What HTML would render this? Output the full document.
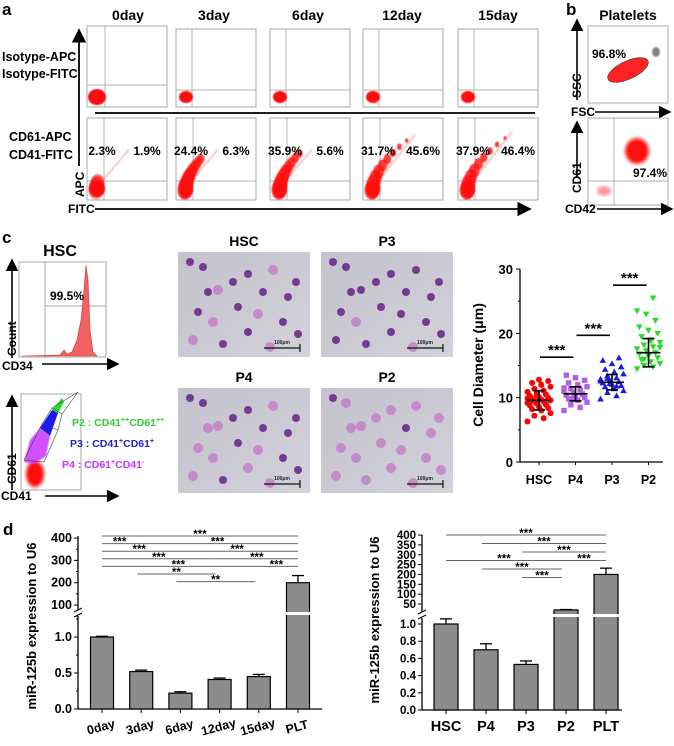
<!DOCTYPE html>
<html><head><meta charset="utf-8">
<style>
html,body{margin:0;padding:0;background:#fff;}
svg{display:block;font-family:"Liberation Sans",Arial,sans-serif;}
text{font-weight:bold;}
</style></head>
<body>
<svg id="fig" width="674" height="746" viewBox="0 0 674 746" xmlns="http://www.w3.org/2000/svg">
<defs>
<filter id="blur1"><feGaussianBlur stdDeviation="1.5"/></filter>
<filter id="blur2"><feGaussianBlur stdDeviation="0.6"/></filter>
<marker id="arr" markerWidth="8" markerHeight="8" refX="7" refY="4" orient="auto"><path d="M0,0 L8,4 L0,8 z" fill="#000"/></marker>
<linearGradient id="mic" x1="0" y1="0" x2="1" y2="1"><stop offset="0" stop-color="#c4c2cc"/><stop offset="1" stop-color="#d2d2da"/></linearGradient>
</defs>

<g>
<text x="2" y="15" font-size="17">a</text>
<g font-size="14" text-anchor="middle">
<text x="128" y="20">0day</text>
<text x="214" y="20">3day</text>
<text x="308" y="20">6day</text>
<text x="402" y="20">12day</text>
<text x="498" y="20">15day</text>
</g>
<g font-size="12.5">
<text x="2" y="61">Isotype-APC</text>
<text x="2" y="78">Isotype-FITC</text>
<text x="9" y="141">CD61-APC</text>
<text x="9" y="159">CD41-FITC</text>
</g>
<line x1="79" y1="166" x2="79" y2="30" stroke="#000" stroke-width="1.8" marker-end="url(#arr)"/>
<line x1="95" y1="113" x2="535" y2="113" stroke="#000" stroke-width="1.8"/>
<line x1="95" y1="209" x2="530" y2="209" stroke="#000" stroke-width="1.8" marker-end="url(#arr)"/>
<text x="84" y="197" font-size="12" transform="rotate(-90 84 197)">APC</text>
<text x="68" y="213" font-size="12">FITC</text>
<g id="flowA"></g>
<g font-size="12" text-anchor="middle" id="pctA"></g>
</g>

<g>
<text x="566" y="15" font-size="17">b</text>
<text x="628" y="20" font-size="14" text-anchor="middle">Platelets</text>
<rect x="588" y="26" width="80" height="77" fill="#fff" stroke="#aaa"/>
<ellipse cx="628" cy="70" rx="22" ry="9" fill="#f22" transform="rotate(-25 628 70)" stroke="#333" stroke-width="0.6"/>
<ellipse cx="656" cy="52" rx="4" ry="5" fill="#333" opacity="0.6" filter="url(#blur2)"/>
<text x="592" y="58" font-size="12">96.8%</text>
<line x1="577" y1="100" x2="577" y2="20" stroke="#000" stroke-width="1.6" marker-end="url(#arr)"/>
<line x1="595" y1="112" x2="670" y2="112" stroke="#000" stroke-width="1.6" marker-end="url(#arr)"/>
<text x="581" y="98" font-size="12" transform="rotate(-90 581 98)">SSC</text>
<text x="571" y="116" font-size="12">FSC</text>
<rect x="588" y="118" width="80" height="87" fill="#fff" stroke="#aaa"/>
<line x1="614" y1="118" x2="614" y2="205" stroke="#999" stroke-width="0.7"/>
<line x1="588" y1="181" x2="668" y2="181" stroke="#999" stroke-width="0.7"/>
<ellipse cx="637" cy="151" rx="12" ry="13" fill="#f22" filter="url(#blur1)"/>
<ellipse cx="637" cy="151" rx="9" ry="10" fill="#f11"/>
<ellipse cx="604" cy="191" rx="7" ry="5" fill="#f55" opacity="0.6" filter="url(#blur1)"/>
<text x="633" y="177" font-size="12">97.4%</text>
<line x1="577" y1="178" x2="577" y2="122" stroke="#000" stroke-width="1.6" marker-end="url(#arr)"/>
<line x1="597" y1="209" x2="672" y2="209" stroke="#000" stroke-width="1.6" marker-end="url(#arr)"/>
<text x="581" y="193" font-size="12" transform="rotate(-90 581 193)">CD61</text>
<text x="565" y="213" font-size="12">CD42</text>
</g>

<g>
<text x="2" y="243" font-size="17">c</text>
<text x="60" y="256" font-size="16" text-anchor="middle">HSC</text>
<rect x="19" y="262" width="87" height="95" fill="#fff" stroke="#aaa"/>
<line x1="45" y1="262" x2="45" y2="357" stroke="#888" stroke-width="0.7"/>
<line x1="45" y1="306" x2="106" y2="306" stroke="#888" stroke-width="0.7"/>
<path d="M22,356 L60,355 L64,350 L67,354 L72,352 L77,340 L81,320 L84,290 L86,265 L88,280 L90,330 L93,352 L97,356 Z" fill="#f26262" stroke="#d33" stroke-width="0.6"/>
<text x="50" y="300" font-size="12">99.5%</text>
<line x1="12" y1="358" x2="12" y2="260" stroke="#000" stroke-width="1.6" marker-end="url(#arr)"/>
<text x="16" y="356" font-size="12" transform="rotate(-90 16 356)">Count</text>
<text x="2" y="370" font-size="12">CD34</text>
<line x1="42" y1="364" x2="118" y2="364" stroke="#000" stroke-width="1.6" marker-end="url(#arr)"/>

<text x="48" y="407" font-size="16" text-anchor="middle">Sorting</text>
<rect x="21" y="394" width="60" height="96" fill="#fff" stroke="#aaa"/>
<ellipse cx="35" cy="474" rx="9" ry="13" fill="#f11" filter="url(#blur1)"/>
<path d="M24,462 L30,440 L40,428 L50,436 L46,456 L34,464 Z" fill="#c3f" opacity="0.85" filter="url(#blur2)"/>
<path d="M40,428 L52,410 L58,413 L50,436 Z" fill="#1a1af0"/>
<path d="M52,410 L62,398 L64,402 L58,413 Z" fill="#22e022"/>
<path d="M24,460 L42,424 L58,430 L44,462 Z M42,424 L52,408 L62,414 L58,430 Z M52,408 L78,392 L62,414 Z" fill="none" stroke="#444" stroke-width="0.6"/>
<line x1="12" y1="490" x2="12" y2="396" stroke="#000" stroke-width="1.6" marker-end="url(#arr)"/>
<text x="16" y="484" font-size="12" transform="rotate(-90 16 484)">CD61</text>
<text x="1" y="500" font-size="12">CD41</text>
<line x1="45" y1="496" x2="118" y2="496" stroke="#000" stroke-width="1.6" marker-end="url(#arr)"/>
<g font-size="10.5">
<text x="72" y="426" fill="#3c3">P2 : CD41<tspan dy="-4" font-size="7">++</tspan><tspan dy="4">CD61</tspan><tspan dy="-4" font-size="7">++</tspan></text>
<text x="70" y="447" fill="#22c">P3 : CD41<tspan dy="-4" font-size="7">+</tspan><tspan dy="4">CD61</tspan><tspan dy="-4" font-size="7">+</tspan></text>
<text x="62" y="468" fill="#c3f">P4 : CD61<tspan dy="-4" font-size="7">+</tspan><tspan dy="4">CD41</tspan><tspan dy="-4" font-size="7">-</tspan></text>
</g>
<g font-size="14" text-anchor="middle">
<text x="244" y="246">HSC</text>
<text x="387" y="246">P3</text>
<text x="244" y="382">P4</text>
<text x="387" y="382">P2</text>
</g>
<g id="micro"></g>
<g id="diam"></g>
</g>

<g>
<text x="3" y="535" font-size="17">d</text>
<g id="barL"></g>
<g id="barR"></g>
</g>
</svg>

<script>
const NS='http://www.w3.org/2000/svg';
function mk(parent,tag,attrs,txt){const e=document.createElementNS(NS,tag);for(const k in attrs)e.setAttribute(k,attrs[k]);if(txt!=null)e.textContent=txt;parent.appendChild(e);return e;}

const flowDays=['0day','3day','6day','12day','15day'];
const flowLeft=[87,176,270,363,458];
const pctLeft=['2.3%','24.4%','35.9%','31.7%','37.9%'];
const pctRight=['1.9%','6.3%','5.6%','45.6%','46.4%'];
const streak=[0.15,0.6,0.7,0.95,1.0];
const fa=document.getElementById('flowA');
const pa=document.getElementById('pctA');
flowDays.forEach((d,i)=>{
  const x=flowLeft[i];
  let r=mk(fa,'rect',{x:x,y:i==0?26:29,width:80,height:i==0?81:78,fill:'#fff',stroke:'#aaa'});
  
  
  const gy=i==0?85:90;
  mk(fa,'line',{x1:x+(i==0?18:16),y1:i==0?26:29,x2:x+(i==0?18:16),y2:107,stroke:'#999','stroke-width':0.7});
  mk(fa,'line',{x1:x,y1:gy,x2:x+80,y2:gy,stroke:'#999','stroke-width':0.7});
  mk(fa,'ellipse',{cx:x+10,cy:97,rx:i==0?9:7,ry:i==0?8:6,fill:'#f11',filter:'url(#blur2)'});
  let r2=mk(fa,'rect',{x:x,y:118,width:80,height:82,fill:'#fff',stroke:'#aaa'});
  
  
  mk(fa,'line',{x1:x+17,y1:118,x2:x+17,y2:200,stroke:'#999','stroke-width':0.7});
  mk(fa,'line',{x1:x,y1:181,x2:x+80,y2:181,stroke:'#999','stroke-width':0.7});
  const s=streak[i];
  // faint tail
  mk(fa,'line',{x1:x+12,y1:185,x2:x+14+40*Math.max(s,0.7),y2:190-58*Math.max(s,0.7),stroke:'#f66','stroke-width':1.6,opacity:0.45,filter:'url(#blur2)'});
  // streak as tapered ellipse chain along a curve
  for(let k=0;k<=8;k++){
    const t=k/8*s;
    const cx=x+9+30*t*t+8*t, cy=190-52*t;
    const rw=Math.max(1.5,7.5-6*t/Math.max(s,0.01)*s);
    mk(fa,'ellipse',{cx:cx,cy:cy,rx:rw,ry:rw*1.3,fill:'#f11',opacity:i==0?0.3:0.8,filter:'url(#blur2)'});
  }
  mk(fa,'ellipse',{cx:x+10,cy:189,rx:i==0?8:7,ry:i==0?8:9,fill:'#f11',filter:'url(#blur2)'});
  let t1=mk(pa,'text',{x:x+15,y:155},pctLeft[i]);
  
  
  let t2=mk(pa,'text',{x:x+60,y:155},pctRight[i]);
  
  
});

const micro=document.getElementById('micro');
const microPanels=[{n:'hsc',x:178,y:252,dark:0.7},{n:'p3',x:321,y:252,dark:0.9},{n:'p4',x:178,y:388,dark:0.5},{n:'p2',x:321,y:388,dark:0.05}];
const cellPos=[[12,10],[25,15],[40,38],[55,30],[70,22],[95,18],[110,45],[20,60],[35,70],[60,55],[80,62],[105,70],[118,30],[15,88],[45,92],[70,80],[92,95],[120,82],[30,40],[85,40]];
microPanels.forEach(p=>{
  let r=mk(micro,'rect',{x:p.x,y:p.y,width:132,height:105,fill:'url(#mic)'});
  
  
  cellPos.forEach((c,j)=>{
    const dk=((j*37)%100)/100<p.dark;
    mk(micro,'circle',{cx:p.x+c[0],cy:p.y+c[1],r:dk?4:5,fill:dk?'#6a2a8a':'#c070c8',opacity:dk?0.9:0.7});
  });
  mk(micro,'line',{x1:p.x+86,y1:p.y+96,x2:p.x+122,y2:p.y+96,stroke:'#111','stroke-width':1.2});
  mk(micro,'line',{x1:p.x+122,y1:p.y+92,x2:p.x+122,y2:p.y+100,stroke:'#111','stroke-width':1.2});
  mk(micro,'text',{x:p.x+104,y:p.y+92,'font-size':5,'font-weight':'normal','text-anchor':'middle',fill:'#222'},'100μm');
});

const diamGroups=['HSC','P4','P3','P2'];
const diamColors=['#f00','#b060e0','#1a1ae6','#22dd22'];
const diamMeans=[9.6,10.6,12.4,17.0];
const diamSD=[1.5,1.1,1.2,2.2];
const diamHSC=[6.3,6.8,7.2,7.6,8.0,8.2,8.4,8.6,8.8,9.0,9.1,9.2,9.4,9.5,9.6,9.7,9.8,10.0,10.1,10.3,10.5,10.7,10.9,11.1,11.4,11.7,12.0,12.3,12.6,12.8,9.3,8.9,10.4,9.9];
const diamP4=[8.0,8.5,8.9,9.3,9.6,9.8,10.0,10.2,10.4,10.6,10.8,11.0,11.2,11.4,11.7,12.0,12.3,12.7,13.1,13.5,10.5,9.9,11.5];
const diamP3=[9.8,10.3,10.8,11.1,11.4,11.7,11.9,12.1,12.3,12.5,12.7,12.9,13.1,13.4,13.7,14.0,14.4,14.8,15.3,15.8,16.2,12.2,12.6,11.8,13.0];
const diamP2=[14.5,14.8,15.0,15.3,15.6,15.9,16.2,16.5,16.8,17.0,17.3,17.6,17.9,18.2,18.6,19.0,19.5,20.0,20.5,21.0,22.0,23.0,23.5,25.5,16.0,17.8,18.8];
const diamPoints=[diamHSC,diamP4,diamP3,diamP2];
const diamTicks=[0,10,20,30];
const sigDiam=[[0,1,16.3],[1,2,19.7],[2,3,27.5]];
(function(){
  const g=document.getElementById('diam');
  const x0=520,y0=462,yScale=v=>y0-v*6.43;
  const xc=i=>539+i*36.5;
  const yt=mk(g,'text',{x:0,y:0,'font-size':14,'text-anchor':'middle',transform:`translate(483 365) rotate(-90)`},'Cell Diameter (μm)');
  
  
  const ax=mk(g,'path',{d:`M${x0},${yScale(30)} L${x0},${y0} L663,${y0}`,fill:'none',stroke:'#000','stroke-width':1.3});
  
  
  diamTicks.forEach(t=>{
    mk(g,'line',{x1:x0-4,y1:yScale(t),x2:x0,y2:yScale(t),stroke:'#000'});
    if(t<30)mk(g,'line',{x1:x0-2,y1:yScale(t+5),x2:x0,y2:yScale(t+5),stroke:'#000'});
    const tl=mk(g,'text',{x:x0-7,y:yScale(t)+5,'font-size':13,'text-anchor':'end'},String(t));
    
    
  });
  diamGroups.forEach((n,i)=>{
    mk(g,'line',{x1:xc(i),y1:y0,x2:xc(i),y2:y0+3,stroke:'#000'});
    const lab=mk(g,'text',{x:xc(i),y:484,'font-size':12.5,'text-anchor':'middle'},n);
    
    
    diamPoints[i].forEach((v,j)=>{
      const dx=(((j*7)%11)-5)*2.3;
      const px=xc(i)+dx, py=yScale(v);
      let m;
      if(i==0) m=mk(g,'circle',{cx:px,cy:py,r:3,fill:diamColors[i]});
      else if(i==1) m=mk(g,'rect',{x:px-2.7,y:py-2.7,width:5.4,height:5.4,fill:diamColors[i]});
      else if(i==2) m=mk(g,'path',{d:`M${px},${py-3.3} L${px+3.3},${py+2.5} L${px-3.3},${py+2.5} Z`,fill:diamColors[i]});
      else m=mk(g,'path',{d:`M${px-3.3},${py-2.5} L${px+3.3},${py-2.5} L${px},${py+3.3} Z`,fill:diamColors[i]});
      
      
    });
    const ym=yScale(diamMeans[i]),yh=yScale(diamMeans[i]+diamSD[i]),yl=yScale(diamMeans[i]-diamSD[i]);
    const eb=mk(g,'path',{d:`M${xc(i)-12},${ym} H${xc(i)+12} M${xc(i)},${yh} V${yl} M${xc(i)-6},${yh} H${xc(i)+6} M${xc(i)-6},${yl} H${xc(i)+6}`,stroke:'#000','stroke-width':1.6,fill:'none'});
    
    
  });
  sigDiam.forEach(s=>{
    const a=xc(s[0])+1,b=xc(s[1])-2,y=yScale(s[2]);
    const l=mk(g,'line',{x1:a,y1:y,x2:b,y2:y,stroke:'#000','stroke-width':1.6});
    
    
    mk(g,'text',{x:(a+b)/2,y:y-2,'font-size':15,'text-anchor':'middle'},'***');
  });
})();

const barLCats=['0day','3day','6day','12day','15day','PLT'];
const barLVals=[1.0,0.52,0.22,0.41,0.45,200];
const barLErr=[0.01,0.02,0.02,0.02,0.03,32];
const barLLowTicks=['0.0','0.5','1.0'];
const barLHighTicks=['100','200','300','400'];
const barLSig=[[0,5,'***',0],[0,1,'***',1],[1,5,'***',1],[0,2,'***',2],[2,5,'***',2],[0,3,'***',3],[3,5,'***',3],[0,4,'***',4],[4,5,'***',4],[1,3,'**',5],[2,4,'**',6]];
const barRCats=['HSC','P4','P3','P2','PLT'];
const barRVals=[1.0,0.70,0.53,20,200];
const barRErr=[0.06,0.07,0.04,2,32];
const barRLowTicks=['0.0','0.2','0.4','0.6','0.8','1.0'];
const barRHighTicks=['50','100','150','200','250','300','350','400'];
const barRSig=[[0,4,'***',0],[1,4,'***',1],[2,4,'***',2],[0,3,'***',3],[3,4,'***',3],[1,3,'***',4],[2,3,'***',5]];

function brokenBar(cfg){
  const g=document.getElementById(cfg.id);
  const {ax,y0,lowPx,lowMax,brk,hiRef,hiRefY,hiPx,x0,dx,bw,xEnd}=cfg;
  const yv=v=> v<=lowMax ? y0-v*lowPx : hiRefY-(v-hiRef)*hiPx;
  const xc=i=>x0+i*dx;
  const yt=mk(g,'text',{x:0,y:0,'font-size':13,'text-anchor':'middle',transform:`translate(${cfg.titleX} ${cfg.titleY}) rotate(-90)`},'miR-125b expression to U6');
  
  
  const a1=mk(g,'line',{x1:ax,y1:cfg.hiTop,x2:ax,y2:brk-3,stroke:'#000','stroke-width':1.3});
  
  
  mk(g,'line',{x1:ax,y1:brk+3,x2:ax,y2:y0,stroke:'#000','stroke-width':1.3});
  mk(g,'path',{d:`M${ax-4},${brk-1} L${ax+4},${brk-5} M${ax-4},${brk+4} L${ax+4},${brk}`,stroke:'#000','stroke-width':1});
  const xa=mk(g,'line',{x1:ax,y1:y0,x2:xEnd,y2:y0,stroke:'#000','stroke-width':1.3});
  
  
  cfg.lowTicks.forEach(t=>{
    const v=parseFloat(t),y=yv(v);
    mk(g,'line',{x1:ax-4,y1:y,x2:ax,y2:y,stroke:'#000'});
    if(cfg.minor) mk(g,'line',{x1:ax-2,y1:yv(v+cfg.minor),x2:ax,y2:yv(v+cfg.minor),stroke:'#000'});
    const tl=mk(g,'text',{x:ax-6,y:y+4,'font-size':cfg.tf,'text-anchor':'end'},t);
    
    
  });
  cfg.highTicks.forEach(t=>{
    const v=parseFloat(t),y=yv(v);
    mk(g,'line',{x1:ax-4,y1:y,x2:ax,y2:y,stroke:'#000'});
    if(cfg.hminor) mk(g,'line',{x1:ax-2,y1:yv(v-cfg.hminor),x2:ax,y2:yv(v-cfg.hminor),stroke:'#000'});
    const tl=mk(g,'text',{x:ax-6,y:y+4,'font-size':cfg.tf,'text-anchor':'end'},t);
    
    
  });
  cfg.cats.forEach((c,i)=>{
    const v=cfg.vals[i],e=cfg.err[i],x=xc(i),top=yv(v),et=yv(v+e);
    mk(g,'line',{x1:x,y1:et,x2:x,y2:top,stroke:'#000','stroke-width':1.3});
    mk(g,'line',{x1:x-6,y1:et,x2:x+6,y2:et,stroke:'#000','stroke-width':1.3});
    const b=mk(g,'rect',{x:x-bw/2,y:top,width:bw,height:y0-top,fill:'#8c8c8c',stroke:'#000','stroke-width':1.2});
    
    
    if(v>lowMax) mk(g,'rect',{x:x-bw/2-1,y:brk-1,width:bw+2,height:3,fill:'#fff'});
    mk(g,'line',{x1:x,y1:y0,x2:x,y2:y0+4,stroke:'#000'});
    const lt=cfg.rot? mk(g,'text',{x:0,y:0,'font-size':12.5,'text-anchor':'middle',transform:`translate(${x} ${cfg.labY}) rotate(-15)`},c)
                    : mk(g,'text',{x:x,y:cfg.labY,'font-size':14.5,'text-anchor':'middle'},c);
    
    
  });
  cfg.sig.forEach(s=>{
    const y=cfg.sigY0+s[3]*cfg.sigDy;
    const a=s[0]==0&&s[1]!=cfg.cats.length-1&&cfg.rot?xc(s[0]):xc(s[0])-(s[0]==0?0:4);
    const b=xc(s[1])-(s[1]==cfg.cats.length-1?0:4);
    const l=mk(g,'line',{x1:a,y1:y,x2:b,y2:y,stroke:'#666','stroke-width':1});
    
    
    mk(g,'text',{x:(a+b)/2,y:y+2,'font-size':11.5,'text-anchor':'middle'},s[2]);
  });
}
brokenBar({id:'barL',ax:78,y0:709,lowPx:72,lowMax:1.3,brk:613,hiRef:100,hiRefY:605,hiPx:0.223,hiTop:536,
  x0:102,dx:39.2,bw:23,xEnd:322,cats:barLCats,vals:barLVals,err:barLErr,lowTicks:barLLowTicks,highTicks:barLHighTicks,
  minor:0.25,hminor:50,tf:12.5,rot:true,labY:731,titleX:36,titleY:626,sig:barLSig,sigY0:536,sigDy:7.6});
brokenBar({id:'barR',ax:422,y0:710,lowPx:86,lowMax:1.1,brk:615,hiRef:50,hiRefY:604,hiPx:0.197,hiTop:535,
  x0:446,dx:40,bw:24,xEnd:622,cats:barRCats,vals:barRVals,err:barRErr,lowTicks:barRLowTicks,highTicks:barRHighTicks,
  minor:0,hminor:0,tf:11.5,rot:false,labY:731,titleX:379,titleY:620,sig:barRSig,sigY0:535,sigDy:8.5});
</script>
</body></html>
